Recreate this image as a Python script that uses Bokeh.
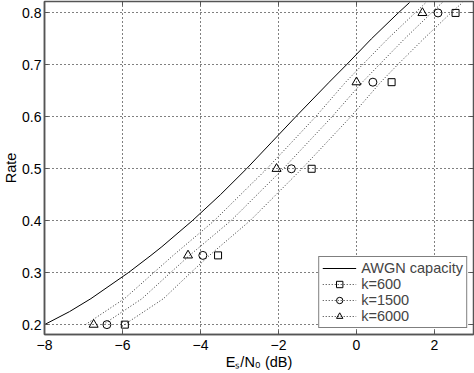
from bokeh.plotting import figure
from bokeh.models import Range1d, FixedTicker, LinearAxis, Legend, LegendItem
from bokeh.embed import file_html
from bokeh.resources import INLINE

# ---- data ----
x_ticks = [-8, -6, -4, -2, 0, 2]
x_tick_labels = ["\u22128", "\u22126", "\u22124", "\u22122", "0", "2"]
y_ticks = [0.2, 0.3, 0.4, 0.5, 0.6, 0.7, 0.8]
y_tick_labels = ["0.2", "0.3", "0.4", "0.5", "0.6", "0.7", "0.8"]

cap_esn0 = [-8.0, -7.36, -6.81, -5.85, -5.27, -4.99, -4.21, -3.49, -2.82, -2.19, -1.56, -0.70, -0.26, 0.38, 1.07, 1.36]
cap_rate = [0.2, 0.225, 0.25, 0.3, 0.3333, 0.35, 0.4, 0.45, 0.5, 0.55, 0.6, 0.6667, 0.7, 0.75, 0.8, 0.82]

curve_rate = [0.2, 0.25, 0.3, 0.3333, 0.4, 0.5, 0.6, 0.6667, 0.7, 0.75, 0.8, 0.82]
k6000_curve = [-6.95, -5.95, -5.2, -4.7, -3.65, -2.3, -1.05, -0.28, 0.15, 0.8, 1.5, 1.78]
k1500_curve = [-6.5, -5.5, -4.77, -4.28, -3.22, -1.88, -0.63, 0.15, 0.58, 1.23, 1.92, 2.2]
k600_curve = [-5.95, -4.95, -4.25, -3.77, -2.73, -1.4, -0.15, 0.62, 1.05, 1.72, 2.42, 2.72]

sim_rate = [0.2, 0.3333, 0.5, 0.6667, 0.8]
k600_sim = [-5.94, -3.55, -1.15, 0.90, 2.54]
k1500_sim = [-6.40, -3.94, -1.67, 0.42, 2.09]
k6000_sim = [-6.74, -4.32, -2.05, 0.0, 1.69]

x_label = "E\u209b/N\u2080 (dB)"
y_label = "Rate"

FONT = "Liberation Sans"

p = figure(width=474, height=373, x_range=Range1d(-8, 3), y_range=Range1d(0.181, 0.822),
           output_backend="svg", toolbar_location=None,
           min_border_left=42, min_border_right=1, min_border_top=1, min_border_bottom=39)

p.background_fill_color = "white"
p.border_fill_color = "white"
p.outline_line_color = "#555555"
p.outline_line_width = 1.5

for ax, ticks, labels in ((p.xaxis[0], x_ticks, x_tick_labels), (p.yaxis[0], y_ticks, y_tick_labels)):
    ax.ticker = FixedTicker(ticks=ticks)
    ax.major_label_overrides = {t: l for t, l in zip(ticks, labels)}
    ax.major_tick_in = 4
    ax.major_tick_out = 0
    ax.minor_tick_line_color = None
    ax.axis_line_color = "#555555"
    ax.axis_line_width = 1.5
    ax.major_tick_line_color = "#555555"
    ax.major_label_text_font = FONT
    ax.major_label_text_font_size = "14px"
    ax.major_label_text_color = "black"
    ax.axis_label_text_font = FONT
    ax.axis_label_text_font_size = "14.5px"
    ax.axis_label_text_font_style = "normal"
    ax.axis_label_text_color = "black"

p.xaxis.major_label_standoff = 5
p.yaxis.major_label_standoff = 3
p.xaxis.axis_label = x_label
p.xaxis.axis_label_standoff = 1
p.yaxis.axis_label = y_label
p.yaxis.axis_label_standoff = 0

for loc, ticks in (("above", x_ticks), ("right", y_ticks)):
    a = LinearAxis(ticker=FixedTicker(ticks=ticks),
                   major_label_overrides={t: "" for t in ticks},
                   major_label_text_font_size="1px",
                   major_label_standoff=0, axis_line_color=None, major_tick_in=4,
                   major_tick_out=0, minor_tick_line_color=None, major_tick_line_color="#555555")
    p.add_layout(a, loc)

p.xgrid.grid_line_color = "black"
p.ygrid.grid_line_color = "black"
p.xgrid.grid_line_dash = "1 3"
p.ygrid.grid_line_dash = "1 3"
p.xgrid.grid_line_alpha = 1.0
p.ygrid.grid_line_alpha = 1.0

cap_r = p.line(cap_esn0, cap_rate, line_color="black", line_width=1)

items = [LegendItem(label="AWGN capacity", renderers=[cap_r])]
for lab, curve, sim, marker, size in (("k=600", k600_curve, k600_sim, "square", 7),
                                      ("k=1500", k1500_curve, k1500_sim, "circle", 8),
                                      ("k=6000", k6000_curve, k6000_sim, "triangle", 9)):
    lr = p.line(curve, curve_rate, line_color="#333333", line_width=1, line_dash="1 2")
    sr = p.scatter(sim, sim_rate, marker=marker, size=size, fill_color=None,
                   line_color="black", line_width=1)
    items.append(LegendItem(label=lab, renderers=[lr, sr]))

legend = Legend(items=items, location="bottom_right", margin=6, padding=3, spacing=0,
                label_height=16, glyph_height=16, glyph_width=34, label_standoff=5,
                label_text_font=FONT, label_text_font_size="14.5px",
                border_line_color="black", border_line_width=1,
                background_fill_color="white", background_fill_alpha=1.0)
p.add_layout(legend, "center")

open("out.html", "w").write(file_html(p, INLINE))
